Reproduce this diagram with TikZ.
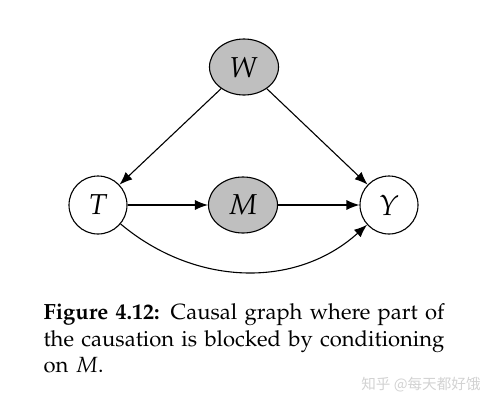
\documentclass[tikz,border=0pt]{standalone}
\usepackage[T1]{fontenc}
\usepackage{mathpazo}
\usepackage{fontspec}
\newfontfamily\cjk{Noto Sans CJK SC}
\newcommand\palfont{\fontencoding{T1}\fontfamily{ppl}\selectfont}
\usetikzlibrary{arrows.meta,shapes.geometric}

\def\rowy{99.5pt}

\begin{document}
\begin{tikzpicture}[x=1pt,y=1pt,
    every node/.style={line width=0.55pt},
    obs/.style={draw,ellipse,fill=gray!50,minimum width=34.5pt,minimum height=28pt,inner sep=0pt,font=\Large},
    var/.style={draw,circle,fill=white,minimum size=29pt,inner sep=0pt,font=\Large},
    edge/.style={-{Latex[length=6.5pt,width=5pt]},line width=0.55pt}]
  \useasboundingbox (0,0) rectangle (247,202);

  \node[obs] (W) at (122,168.5) {$W$};
  \node[var] (T) at (49,\rowy) {$T$};
  \node[obs] (M) at (121.5,\rowy) {$M$};
  \node[var] (Y) at (194.5,\rowy) {$Y$};

  \draw[edge] (W) -- (T);
  \draw[edge] (W) -- (Y);
  \draw[edge] (T) -- (M);
  \draw[edge] (M) -- (Y);
  \draw[edge] (T) to[out=-40,in=-138] (Y);

  % caption and watermark
  \node[anchor=north west,inner sep=0pt,text width=220pt,align=left,
    font=\palfont\fontsize{11}{13.3}\selectfont] (cap) at (21.5,50.5)
    {\textbf{Figure 4.12:} Causal graph where part of\\
     the causation is blocked by conditioning\\
     on $M$.};
  \node[text=gray!35,font=\cjk\fontsize{7.3}{8}\selectfont,inner sep=0pt] (mark) at (210.5,9.5)
    {知乎\ @每天都好饿};
\end{tikzpicture}
\end{document}
